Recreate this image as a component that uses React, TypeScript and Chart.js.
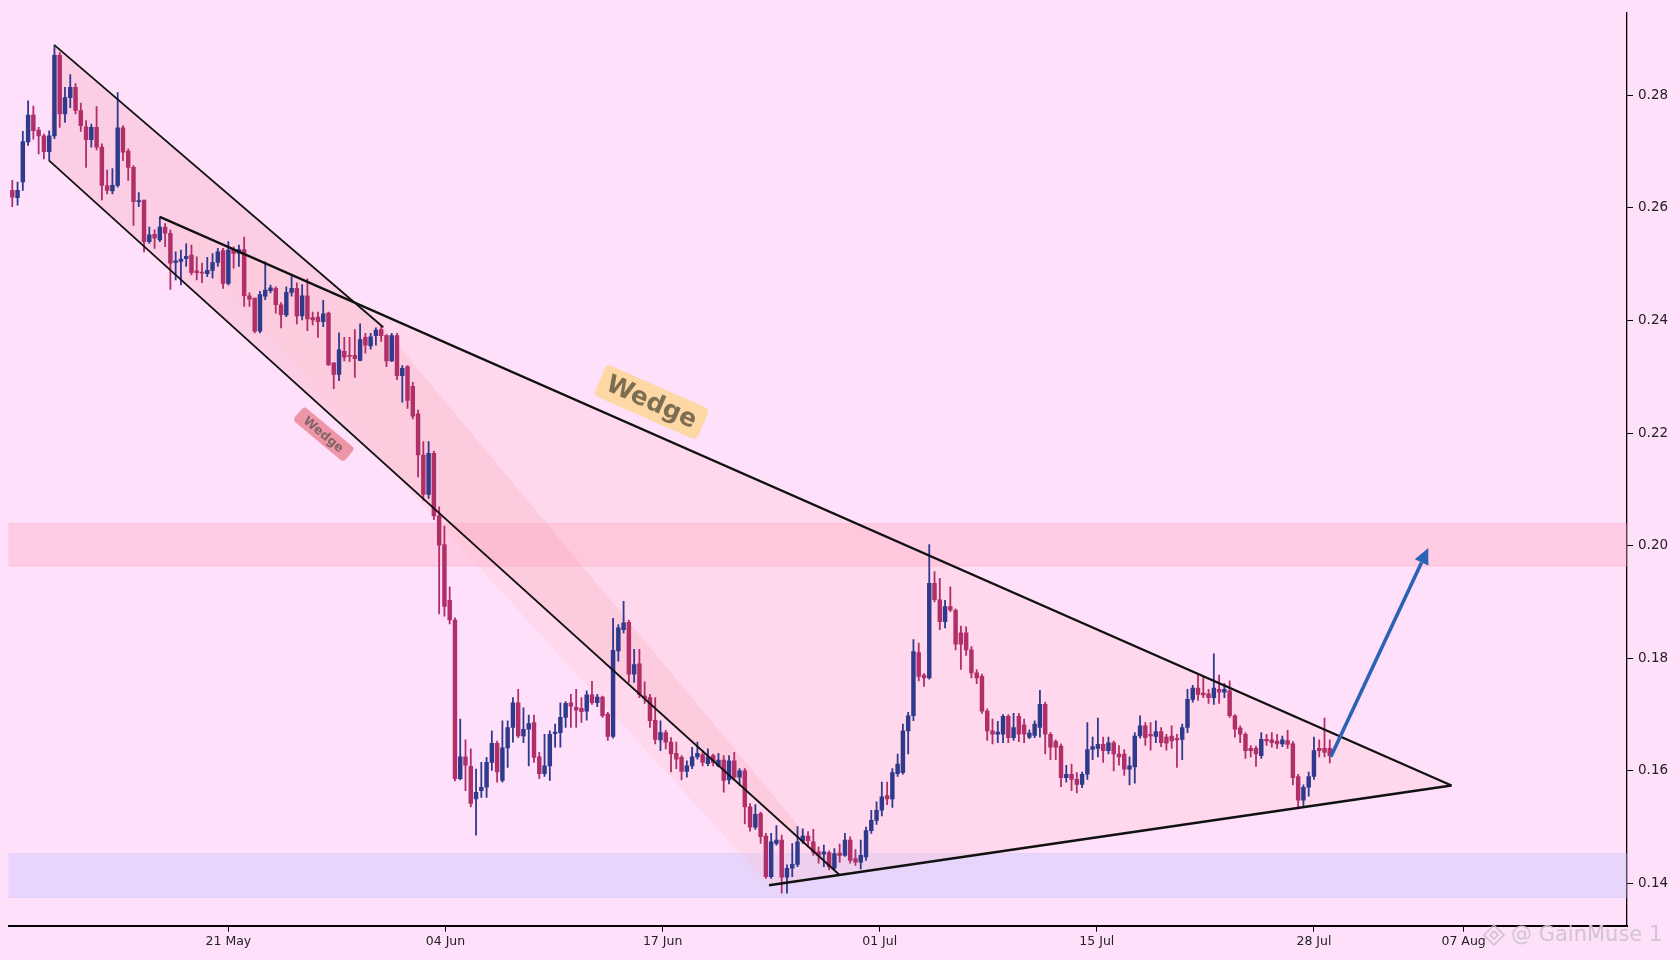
import React, { useEffect, useRef } from 'react';
import { Chart, registerables } from 'chart.js';

Chart.register(...registerables);

// ---- candle data (8h candles, index 0..250) ----
const OPEN = [
  0.2631, 0.2618, 0.2646, 0.2717, 0.2765, 0.2738, 0.2728, 0.2700, 0.2728, 0.2871,
  0.2767, 0.2796, 0.2814, 0.2773, 0.2744, 0.2721, 0.2743, 0.2708, 0.2639, 0.2630,
  0.2640, 0.2742, 0.2701, 0.2672, 0.2611, 0.2614, 0.2540, 0.2553, 0.2543, 0.2566,
  0.2555, 0.2503, 0.2505, 0.2510, 0.2516, 0.2488, 0.2486, 0.2483, 0.2489, 0.2503,
  0.2524, 0.2466, 0.2526, 0.2519, 0.2526, 0.2444, 0.2440, 0.2381, 0.2443, 0.2453,
  0.2457, 0.2428, 0.2410, 0.2450, 0.2457, 0.2408, 0.2444, 0.2405, 0.2406, 0.2398,
  0.2413, 0.2325, 0.2304, 0.2345, 0.2338, 0.2338, 0.2329, 0.2370, 0.2355, 0.2373,
  0.2384, 0.2373, 0.2328, 0.2373, 0.2302, 0.2318, 0.2283, 0.2234, 0.2161, 0.2091,
  0.2164, 0.2053, 0.2002, 0.1903, 0.1868, 0.1586, 0.1625, 0.1608, 0.1550, 0.1565,
  0.1571, 0.1615, 0.1649, 0.1583, 0.1641, 0.1677, 0.1721, 0.1662, 0.1674, 0.1686,
  0.1625, 0.1595, 0.1609, 0.1666, 0.1668, 0.1695, 0.1721, 0.1713, 0.1711, 0.1706,
  0.1735, 0.1721, 0.1731, 0.1701, 0.1661, 0.1813, 0.1851, 0.1864, 0.1772, 0.1790,
  0.1733, 0.1730, 0.1690, 0.1655, 0.1668, 0.1651, 0.1631, 0.1624, 0.1599, 0.1609,
  0.1625, 0.1629, 0.1613, 0.1627, 0.1609, 0.1619, 0.1584, 0.1618, 0.1589, 0.1600,
  0.1536, 0.1500, 0.1524, 0.1484, 0.1412, 0.1471, 0.1477, 0.1411, 0.1427, 0.1434,
  0.1475, 0.1484, 0.1474, 0.1456, 0.1452, 0.1455, 0.1427, 0.1454, 0.1450, 0.1477,
  0.1444, 0.1438, 0.1447, 0.1494, 0.1512, 0.1530, 0.1556, 0.1550, 0.1595, 0.1597,
  0.1671, 0.1698, 0.1810, 0.1770, 0.1765, 0.1933, 0.1904, 0.1865, 0.1892, 0.1885,
  0.1845, 0.1845, 0.1815, 0.1774, 0.1768, 0.1706, 0.1671, 0.1665, 0.1665, 0.1697,
  0.1659, 0.1697, 0.1682, 0.1660, 0.1663, 0.1677, 0.1718, 0.1665, 0.1652, 0.1644,
  0.1588, 0.1594, 0.1585, 0.1576, 0.1594, 0.1638, 0.1640, 0.1647, 0.1636, 0.1650,
  0.1630, 0.1630, 0.1603, 0.1607, 0.1662, 0.1680, 0.1665, 0.1661, 0.1670, 0.1660,
  0.1662, 0.1658, 0.1656, 0.1677, 0.1727, 0.1747, 0.1738, 0.1737, 0.1730, 0.1745,
  0.1740, 0.1742, 0.1698, 0.1676, 0.1665, 0.1640, 0.1640, 0.1627, 0.1656, 0.1655,
  0.1653, 0.1648, 0.1654, 0.1648, 0.1590, 0.1548, 0.1571, 0.1590, 0.1640, 0.1640,
  0.1640,
];
const HIGH = [
  0.2649, 0.2646, 0.2736, 0.2790, 0.2781, 0.2743, 0.2731, 0.2737, 0.2889, 0.2876,
  0.2814, 0.2837, 0.2821, 0.2786, 0.2755, 0.2749, 0.2780, 0.2714, 0.2667, 0.2670,
  0.2805, 0.2746, 0.2705, 0.2675, 0.2627, 0.2614, 0.2566, 0.2561, 0.2584, 0.2572,
  0.2561, 0.2522, 0.2525, 0.2536, 0.2534, 0.2513, 0.2502, 0.2512, 0.2519, 0.2528,
  0.2528, 0.2540, 0.2531, 0.2534, 0.2548, 0.2449, 0.2440, 0.2452, 0.2504, 0.2463,
  0.2460, 0.2432, 0.2460, 0.2478, 0.2467, 0.2464, 0.2474, 0.2415, 0.2415, 0.2436,
  0.2415, 0.2325, 0.2378, 0.2370, 0.2370, 0.2384, 0.2394, 0.2377, 0.2377, 0.2387,
  0.2389, 0.2375, 0.2377, 0.2377, 0.2320, 0.2320, 0.2290, 0.2241, 0.2185, 0.2185,
  0.2168, 0.2069, 0.2035, 0.1927, 0.1872, 0.1692, 0.1655, 0.1639, 0.1603, 0.1615,
  0.1624, 0.1671, 0.1653, 0.1689, 0.1689, 0.1730, 0.1745, 0.1712, 0.1699, 0.1699,
  0.1633, 0.1665, 0.1671, 0.1683, 0.1721, 0.1723, 0.1736, 0.1745, 0.1730, 0.1742,
  0.1759, 0.1736, 0.1733, 0.1704, 0.1871, 0.1860, 0.1901, 0.1868, 0.1816, 0.1816,
  0.1758, 0.1736, 0.1730, 0.1689, 0.1672, 0.1659, 0.1651, 0.1627, 0.1618, 0.1642,
  0.1651, 0.1636, 0.1639, 0.1630, 0.1631, 0.1627, 0.1627, 0.1633, 0.1604, 0.1604,
  0.1542, 0.1540, 0.1527, 0.1489, 0.1489, 0.1503, 0.1486, 0.1433, 0.1471, 0.1501,
  0.1497, 0.1492, 0.1496, 0.1465, 0.1468, 0.1458, 0.1462, 0.1470, 0.1489, 0.1483,
  0.1460, 0.1477, 0.1500, 0.1530, 0.1545, 0.1580, 0.1580, 0.1604, 0.1630, 0.1683,
  0.1704, 0.1833, 0.1827, 0.1773, 0.2002, 0.1954, 0.1942, 0.1903, 0.1927, 0.1888,
  0.1857, 0.1856, 0.1821, 0.1780, 0.1772, 0.1710, 0.1692, 0.1688, 0.1700, 0.1700,
  0.1702, 0.1702, 0.1692, 0.1673, 0.1689, 0.1743, 0.1722, 0.1668, 0.1655, 0.1648,
  0.1610, 0.1612, 0.1597, 0.1598, 0.1686, 0.1660, 0.1694, 0.1660, 0.1660, 0.1653,
  0.1645, 0.1638, 0.1625, 0.1668, 0.1698, 0.1686, 0.1686, 0.1689, 0.1677, 0.1665,
  0.1680, 0.1665, 0.1683, 0.1745, 0.1752, 0.1770, 0.1768, 0.1745, 0.1808, 0.1770,
  0.1755, 0.1760, 0.1700, 0.1680, 0.1668, 0.1645, 0.1644, 0.1668, 0.1665, 0.1668,
  0.1665, 0.1662, 0.1672, 0.1652, 0.1594, 0.1575, 0.1598, 0.1660, 0.1655, 0.1694,
  0.1655,
];
const LOW = [
  0.2602, 0.2605, 0.2631, 0.2711, 0.2722, 0.2696, 0.2687, 0.2684, 0.2723, 0.2743,
  0.2752, 0.2778, 0.2767, 0.2736, 0.2672, 0.2708, 0.2703, 0.2614, 0.2625, 0.2625,
  0.2637, 0.2684, 0.2649, 0.2569, 0.2602, 0.2522, 0.2537, 0.2528, 0.2540, 0.2531,
  0.2455, 0.2472, 0.2463, 0.2496, 0.2481, 0.2472, 0.2467, 0.2478, 0.2475, 0.2496,
  0.2457, 0.2463, 0.2493, 0.2496, 0.2425, 0.2425, 0.2378, 0.2378, 0.2437, 0.2449,
  0.2413, 0.2387, 0.2407, 0.2443, 0.2394, 0.2401, 0.2382, 0.2392, 0.2370, 0.2389,
  0.2320, 0.2279, 0.2293, 0.2328, 0.2327, 0.2299, 0.2328, 0.2342, 0.2349, 0.2356,
  0.2363, 0.2318, 0.2327, 0.2295, 0.2255, 0.2244, 0.2225, 0.2122, 0.2081, 0.2084,
  0.2046, 0.1879, 0.1875, 0.1861, 0.1582, 0.1584, 0.1565, 0.1536, 0.1486, 0.1553,
  0.1553, 0.1601, 0.1580, 0.1580, 0.1606, 0.1651, 0.1659, 0.1650, 0.1609, 0.1615,
  0.1586, 0.1590, 0.1583, 0.1642, 0.1642, 0.1677, 0.1677, 0.1677, 0.1686, 0.1690,
  0.1718, 0.1714, 0.1695, 0.1654, 0.1658, 0.1795, 0.1845, 0.1757, 0.1757, 0.1730,
  0.1720, 0.1677, 0.1648, 0.1636, 0.1639, 0.1598, 0.1604, 0.1584, 0.1589, 0.1604,
  0.1621, 0.1609, 0.1609, 0.1609, 0.1607, 0.1562, 0.1577, 0.1583, 0.1574, 0.1506,
  0.1493, 0.1496, 0.1471, 0.1409, 0.1409, 0.1468, 0.1383, 0.1383, 0.1412, 0.1430,
  0.1471, 0.1465, 0.1450, 0.1436, 0.1430, 0.1424, 0.1424, 0.1438, 0.1448, 0.1436,
  0.1432, 0.1426, 0.1441, 0.1489, 0.1505, 0.1520, 0.1540, 0.1535, 0.1590, 0.1594,
  0.1630, 0.1689, 0.1760, 0.1750, 0.1763, 0.1900, 0.1851, 0.1854, 0.1883, 0.1815,
  0.1780, 0.1805, 0.1765, 0.1755, 0.1702, 0.1654, 0.1648, 0.1650, 0.1650, 0.1650,
  0.1654, 0.1652, 0.1650, 0.1657, 0.1659, 0.1660, 0.1630, 0.1620, 0.1620, 0.1572,
  0.1580, 0.1565, 0.1561, 0.1570, 0.1585, 0.1620, 0.1625, 0.1615, 0.1630, 0.1600,
  0.1610, 0.1592, 0.1575, 0.1578, 0.1658, 0.1645, 0.1637, 0.1650, 0.1643, 0.1637,
  0.1640, 0.1606, 0.1620, 0.1668, 0.1722, 0.1725, 0.1730, 0.1720, 0.1718, 0.1720,
  0.1730, 0.1695, 0.1660, 0.1650, 0.1622, 0.1625, 0.1608, 0.1622, 0.1645, 0.1642,
  0.1640, 0.1643, 0.1640, 0.1575, 0.1535, 0.1537, 0.1555, 0.1585, 0.1625, 0.1625,
  0.1614,
];
const CLOSE = [
  0.2619, 0.2631, 0.2718, 0.2765, 0.2737, 0.2728, 0.2700, 0.2728, 0.2871, 0.2767,
  0.2796, 0.2814, 0.2773, 0.2746, 0.2721, 0.2743, 0.2708, 0.2640, 0.2631, 0.2640,
  0.2742, 0.2699, 0.2672, 0.2611, 0.2613, 0.2540, 0.2552, 0.2546, 0.2566, 0.2555,
  0.2502, 0.2506, 0.2509, 0.2514, 0.2485, 0.2485, 0.2484, 0.2489, 0.2503, 0.2522,
  0.2466, 0.2525, 0.2519, 0.2526, 0.2444, 0.2438, 0.2381, 0.2446, 0.2454, 0.2458,
  0.2428, 0.2410, 0.2450, 0.2457, 0.2408, 0.2444, 0.2403, 0.2401, 0.2398, 0.2412,
  0.2321, 0.2304, 0.2348, 0.2335, 0.2336, 0.2332, 0.2366, 0.2356, 0.2371, 0.2383,
  0.2373, 0.2328, 0.2373, 0.2302, 0.2315, 0.2258, 0.2230, 0.2161, 0.2091, 0.2164,
  0.2053, 0.2001, 0.1892, 0.1868, 0.1586, 0.1625, 0.1610, 0.1542, 0.1562, 0.1571,
  0.1615, 0.1649, 0.1598, 0.1641, 0.1677, 0.1721, 0.1662, 0.1674, 0.1684, 0.1624,
  0.1595, 0.1609, 0.1665, 0.1669, 0.1695, 0.1720, 0.1715, 0.1708, 0.1705, 0.1735,
  0.1721, 0.1731, 0.1698, 0.1661, 0.1814, 0.1854, 0.1863, 0.1772, 0.1789, 0.1736,
  0.1729, 0.1689, 0.1656, 0.1668, 0.1651, 0.1630, 0.1621, 0.1599, 0.1609, 0.1625,
  0.1631, 0.1615, 0.1625, 0.1615, 0.1619, 0.1583, 0.1618, 0.1589, 0.1600, 0.1536,
  0.1500, 0.1523, 0.1483, 0.1412, 0.1474, 0.1477, 0.1411, 0.1427, 0.1434, 0.1474,
  0.1484, 0.1476, 0.1456, 0.1450, 0.1456, 0.1430, 0.1453, 0.1450, 0.1477, 0.1441,
  0.1438, 0.1450, 0.1494, 0.1512, 0.1530, 0.1554, 0.1550, 0.1597, 0.1612, 0.1671,
  0.1698, 0.1812, 0.1768, 0.1765, 0.1933, 0.1904, 0.1865, 0.1892, 0.1886, 0.1825,
  0.1825, 0.1815, 0.1774, 0.1765, 0.1706, 0.1671, 0.1665, 0.1669, 0.1697, 0.1659,
  0.1677, 0.1665, 0.1665, 0.1667, 0.1683, 0.1718, 0.1665, 0.1642, 0.1642, 0.1588,
  0.1594, 0.1585, 0.1576, 0.1594, 0.1638, 0.1643, 0.1647, 0.1636, 0.1650, 0.1630,
  0.1625, 0.1603, 0.1609, 0.1662, 0.1680, 0.1659, 0.1662, 0.1670, 0.1650, 0.1649,
  0.1653, 0.1655, 0.1677, 0.1727, 0.1747, 0.1736, 0.1735, 0.1730, 0.1747, 0.1740,
  0.1745, 0.1698, 0.1674, 0.1665, 0.1636, 0.1636, 0.1630, 0.1656, 0.1653, 0.1650,
  0.1648, 0.1655, 0.1647, 0.1588, 0.1548, 0.1571, 0.1590, 0.1636, 0.1636, 0.1633,
  0.1627,
];

// ---- axes ----
const X_TICK_POS = [41, 82.2, 123.4, 164.6, 205.8, 247, 275.4];
const X_TICK_LABELS = ['21 May', '04 Jun', '17 Jun', '01 Jul', '15 Jul', '28 Jul', '07 Aug'];
const Y_TICKS = [0.14, 0.16, 0.18, 0.2, 0.22, 0.24, 0.26, 0.28];
const X_RANGE = [-0.7, 306.4];
const Y_RANGE = [0.1325, 0.2946];

// ---- zones [low, high] ----
const RESIST_ZONE = [0.1964, 0.2039];
const SUPPORT_ZONE = [0.1375, 0.1453];

// ---- pattern geometry [index, price] ----
const WEDGE1_UPPER = [[8, 0.2889], [70.4, 0.2388]];
const WEDGE1_LOWER = [[7, 0.2684], [157, 0.1415]];
const TRI_UPPER = [[28, 0.2584], [273.1, 0.1574]];
const TRI_LOWER = [[143.6, 0.1397], [273.1, 0.1574]];
const ARROW = [[250.2, 0.1625], [268.7, 0.1996]];
const BIG_LABEL_AT = [121.3, 0.2255];
const SMALL_LABEL_AT = [59.1, 0.2198];
const LABEL_TEXT = 'Wedge';

const UP = '#2f3a8c';
const DOWN = '#b02f68';
const BG = '#ffe0fa';

type P = number[];

function toPx(chart: any, p: P): [number, number] {
  return [chart.scales.x.getPixelForValue(p[0]), chart.scales.y.getPixelForValue(p[1])];
}

function fillPoly(ctx: CanvasRenderingContext2D, pts: [number, number][], color: string) {
  ctx.beginPath();
  pts.forEach((p, i) => (i ? ctx.lineTo(p[0], p[1]) : ctx.moveTo(p[0], p[1])));
  ctx.closePath();
  ctx.fillStyle = color;
  ctx.fill();
}

function strokeSeg(ctx: CanvasRenderingContext2D, a: [number, number], b: [number, number], w: number, color: string) {
  ctx.beginPath();
  ctx.moveTo(a[0], a[1]);
  ctx.lineTo(b[0], b[1]);
  ctx.lineWidth = w;
  ctx.strokeStyle = color;
  ctx.lineCap = 'butt';
  ctx.stroke();
}

function drawLabel(
  ctx: CanvasRenderingContext2D, cx: number, cy: number, angle: number, text: string,
  font: string, fg: string, bg: string, padX: number, h: number, r: number,
) {
  ctx.save();
  ctx.translate(cx, cy);
  ctx.rotate(angle);
  ctx.font = font;
  const w = ctx.measureText(text).width + padX * 2;
  ctx.beginPath();
  if ((ctx as any).roundRect) (ctx as any).roundRect(-w / 2, -h / 2, w, h, r);
  else ctx.rect(-w / 2, -h / 2, w, h);
  ctx.fillStyle = bg;
  ctx.fill();
  ctx.fillStyle = fg;
  ctx.textAlign = 'center';
  ctx.textBaseline = 'middle';
  ctx.fillText(text, 0, 1);
  ctx.restore();
}

const annotations = {
  id: 'annotations',
  beforeDatasetsDraw(chart: any) {
    const { ctx, chartArea: a, scales } = chart;
    ctx.save();
    ctx.beginPath();
    ctx.rect(a.left, a.top, a.right - a.left, a.bottom - a.top);
    ctx.clip();
    const zone = (z: number[], fill: string, edge: string) => {
      const y1 = scales.y.getPixelForValue(z[1]);
      const y0 = scales.y.getPixelForValue(z[0]);
      ctx.fillStyle = fill;
      ctx.fillRect(a.left, y1, a.right - a.left, y0 - y1);
      ctx.strokeStyle = edge;
      ctx.lineWidth = 1;
      ctx.strokeRect(a.left, y1, a.right - a.left, y0 - y1);
    };
    zone(RESIST_ZONE, 'rgba(255,150,175,0.28)', 'rgba(240,150,170,0.35)');
    zone(SUPPORT_ZONE, 'rgba(185,190,255,0.32)', 'rgba(190,190,240,0.3)');
    fillPoly(ctx, [
      toPx(chart, WEDGE1_UPPER[0]), toPx(chart, WEDGE1_UPPER[1]),
      toPx(chart, WEDGE1_LOWER[1]), toPx(chart, WEDGE1_LOWER[0]),
    ], 'rgba(240,130,140,0.18)');
    fillPoly(ctx, [
      toPx(chart, TRI_UPPER[0]), toPx(chart, TRI_UPPER[1]), toPx(chart, TRI_LOWER[0]),
    ], 'rgba(255,190,200,0.25)');
    ctx.restore();
  },
  afterDatasetsDraw(chart: any) {
    const { ctx, chartArea: a } = chart;
    ctx.save();
    ctx.beginPath();
    ctx.rect(a.left, a.top, a.right - a.left, a.bottom - a.top);
    ctx.clip();
    const w1a = toPx(chart, WEDGE1_UPPER[0]);
    const w1b = toPx(chart, WEDGE1_UPPER[1]);
    const w2a = toPx(chart, WEDGE1_LOWER[0]);
    const w2b = toPx(chart, WEDGE1_LOWER[1]);
    strokeSeg(ctx, w1a, w1b, 1.8, '#111');
    strokeSeg(ctx, w2a, w2b, 1.8, '#111');
    const ta = toPx(chart, TRI_UPPER[0]);
    const tb = toPx(chart, TRI_UPPER[1]);
    const la = toPx(chart, TRI_LOWER[0]);
    const lb = toPx(chart, TRI_LOWER[1]);
    strokeSeg(ctx, ta, tb, 2.3, '#111');
    strokeSeg(ctx, la, lb, 2.6, '#111');

    // arrow
    const s = toPx(chart, ARROW[0]);
    const e = toPx(chart, ARROW[1]);
    const ang = Math.atan2(e[1] - s[1], e[0] - s[0]);
    const headLen = 16;
    const headW = 7.5;
    const bx = e[0] - Math.cos(ang) * headLen;
    const by = e[1] - Math.sin(ang) * headLen;
    strokeSeg(ctx, s, [bx, by], 3.6, '#2a62b4');
    ctx.beginPath();
    ctx.moveTo(e[0], e[1]);
    ctx.lineTo(bx + Math.sin(ang) * headW, by - Math.cos(ang) * headW);
    ctx.lineTo(bx - Math.sin(ang) * headW, by + Math.cos(ang) * headW);
    ctx.closePath();
    ctx.fillStyle = '#2a62b4';
    ctx.fill();

    // labels
    const bigAng = Math.atan2(tb[1] - ta[1], tb[0] - ta[0]);
    const bp = toPx(chart, BIG_LABEL_AT);
    drawLabel(ctx, bp[0], bp[1], bigAng, LABEL_TEXT, 'bold 25px "DejaVu Sans"',
      'rgba(115,100,75,0.92)', 'rgba(252,214,145,0.82)', 8, 34, 5);
    const smAng = Math.atan2(w2b[1] - w2a[1], w2b[0] - w2a[0]) - 0.04;
    const sp = toPx(chart, SMALL_LABEL_AT);
    drawLabel(ctx, sp[0], sp[1], smAng, LABEL_TEXT, 'bold 12.5px "DejaVu Sans"',
      'rgba(120,95,95,0.92)', 'rgba(232,120,135,0.72)', 9, 18, 4);
    ctx.restore();
  },
  afterDraw(chart: any) {
    const { ctx } = chart;
    ctx.save();
    ctx.strokeStyle = 'rgba(200,190,200,0.9)';
    ctx.lineWidth = 1.5;
    const cx = 1494, cy = 935;
    ctx.beginPath();
    ctx.moveTo(cx, cy - 10); ctx.lineTo(cx + 10, cy); ctx.lineTo(cx, cy + 10); ctx.lineTo(cx - 10, cy); ctx.closePath();
    ctx.stroke();
    ctx.beginPath();
    ctx.moveTo(cx, cy - 4); ctx.lineTo(cx + 4, cy); ctx.lineTo(cx, cy + 4); ctx.lineTo(cx - 4, cy); ctx.closePath();
    ctx.stroke();
    ctx.font = '21px "DejaVu Sans"';
    ctx.fillStyle = 'rgba(205,195,205,0.95)';
    ctx.textAlign = 'left';
    ctx.textBaseline = 'middle';
    ctx.fillText('@ GainMuse 1', 1511, 936);
    ctx.restore();
  },
};

export default function App() {
  const ref = useRef<HTMLCanvasElement | null>(null);
  useEffect(() => {
    if (!ref.current) return;
    const idx = OPEN.map((_, i) => i);
    const colors = idx.map((i) => (CLOSE[i] >= OPEN[i] ? UP : DOWN));
    const chart = new Chart(ref.current, {
      type: 'bar',
      data: {
        datasets: [
          {
            label: 'body',
            data: idx.map((i) => ({ x: i, y: [OPEN[i], CLOSE[i]] })) as any,
            backgroundColor: colors,
            borderWidth: 0,
            barThickness: 3.8,
            minBarLength: 1.2,
            grouped: false,
          } as any,
          {
            label: 'wick',
            data: idx.map((i) => ({ x: i, y: [LOW[i], HIGH[i]] })) as any,
            backgroundColor: colors,
            borderWidth: 0,
            barThickness: 1.15,
            grouped: false,
          } as any,
        ],
      },
      options: {
        animation: false,
        responsive: false,
        maintainAspectRatio: false,
        layout: { padding: { left: 8.6, top: 8.6, right: 0, bottom: 0 } },
        plugins: { legend: { display: false }, tooltip: { enabled: false } },
        scales: {
          x: {
            type: 'linear',
            min: X_RANGE[0],
            max: X_RANGE[1],
            offset: false,
            afterBuildTicks: (axis: any) => {
              axis.ticks = X_TICK_POS.map((v) => ({ value: v }));
            },
            afterFit: (s: any) => { s.height = 34.3; },
            ticks: {
              autoSkip: false,
              maxRotation: 0,
              padding: 3,
              color: '#222',
              font: { family: 'DejaVu Sans', size: 12.5 },
              callback: (v: any) => {
                const k = X_TICK_POS.indexOf(Number(v));
                return k >= 0 ? X_TICK_LABELS[k] : '';
              },
            },
            grid: { display: true, offset: false, drawOnChartArea: false, drawTicks: true, tickLength: 6, color: '#000', lineWidth: 1 },
            border: { display: true, color: '#000', width: 2 },
          },
          y: {
            type: 'linear',
            position: 'right',
            min: Y_RANGE[0],
            max: Y_RANGE[1],
            afterBuildTicks: (axis: any) => {
              axis.ticks = Y_TICKS.map((v) => ({ value: v }));
            },
            afterFit: (s: any) => { s.width = 53; },
            ticks: {
              padding: 5,
              color: '#222',
              font: { family: 'DejaVu Sans', size: 13.5 },
              callback: (v: any) => Number(v).toFixed(2),
            },
            grid: { display: true, offset: false, drawOnChartArea: false, drawTicks: true, tickLength: 6, color: '#000', lineWidth: 1 },
            border: { display: true, color: '#000', width: 1.3 },
          },
        },
      } as any,
      plugins: [annotations],
    });
    return () => chart.destroy();
  }, []);

  return (
    <div style={{ position: 'fixed', left: 0, top: 0, width: 1680, height: 960, background: BG }}>
      <canvas ref={ref} width={1680} height={960} style={{ width: 1680, height: 960, display: 'block' }} />
    </div>
  );
}
